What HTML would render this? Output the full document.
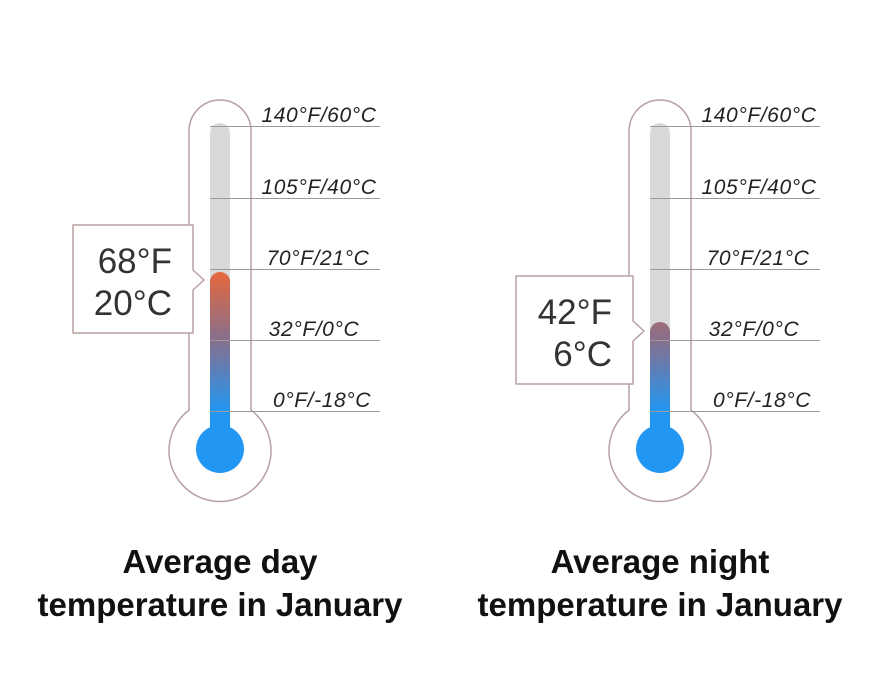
<!DOCTYPE html>
<html><head><meta charset="utf-8"><style>
html,body{margin:0;padding:0;background:#fff;}
svg{display:block;}
.lab{font-family:"Liberation Sans",sans-serif;font-style:italic;font-size:21px;letter-spacing:0.6px;fill:#222;text-anchor:middle;}
.val{font-family:"Liberation Sans",sans-serif;font-size:35px;fill:#333;text-anchor:end;}
.ttl{font-family:"Liberation Sans",sans-serif;font-weight:bold;font-size:33px;fill:#111;text-anchor:middle;}
</style></head><body>
<svg width="880" height="680" viewBox="0 0 880 680" xmlns="http://www.w3.org/2000/svg">
<defs>
<linearGradient id="g" gradientUnits="userSpaceOnUse" x1="0" y1="270" x2="0" y2="412">
<stop offset="0" stop-color="#e8673a"/>
<stop offset="0.5" stop-color="#86708f"/>
<stop offset="1" stop-color="#2196f3"/>
</linearGradient>
</defs>
<g>
<path d="M189,410 L189,131 A31,31 0 0 1 251,131 L251,410 A51,51 0 1 1 189,410 Z" fill="#fff" stroke="#b9a0a0" stroke-width="1.5"/>
<rect x="210" y="123" width="20" height="300" rx="10" fill="#d9d9d9"/>
<rect x="210" y="272" width="20" height="160" rx="10" fill="url(#g)"/>
<rect x="210" y="410" width="20" height="30" fill="#2196f3"/>
<circle cx="220" cy="449" r="24" fill="#2196f3"/>
<g stroke="#9a9a9a" stroke-width="1">
<line x1="210" y1="126.5" x2="380" y2="126.5"/>
<line x1="210" y1="198.5" x2="380" y2="198.5"/>
<line x1="210" y1="269.5" x2="380" y2="269.5"/>
<line x1="210" y1="340.5" x2="380" y2="340.5"/>
<line x1="210" y1="411.5" x2="380" y2="411.5"/>
</g>
<text class="lab" x="319" y="122">140°F/60°C</text>
<text class="lab" x="319" y="194">105°F/40°C</text>
<text class="lab" x="318" y="265">70°F/21°C</text>
<text class="lab" x="314" y="336">32°F/0°C</text>
<text class="lab" x="322" y="407">0°F/-18°C</text>
<path d="M73,225 L193,225 L193,270 L204,280 L193,290 L193,333 L73,333 Z" fill="#fff" stroke="#b9a0a0" stroke-width="1.5" stroke-linejoin="round"/>
<text class="val" x="172" y="273">68°F</text>
<text class="val" x="172" y="315">20°C</text>
<text class="ttl" x="220" y="573">Average day</text>
<text class="ttl" x="220" y="616">temperature in January</text>
</g>
<g>
<path d="M629,410 L629,131 A31,31 0 0 1 691,131 L691,410 A51,51 0 1 1 629,410 Z" fill="#fff" stroke="#b9a0a0" stroke-width="1.5"/>
<rect x="650" y="123" width="20" height="300" rx="10" fill="#d9d9d9"/>
<rect x="650" y="322" width="20" height="110" rx="10" fill="url(#g)"/>
<rect x="650" y="410" width="20" height="30" fill="#2196f3"/>
<circle cx="660" cy="449" r="24" fill="#2196f3"/>
<g stroke="#9a9a9a" stroke-width="1">
<line x1="650" y1="126.5" x2="820" y2="126.5"/>
<line x1="650" y1="198.5" x2="820" y2="198.5"/>
<line x1="650" y1="269.5" x2="820" y2="269.5"/>
<line x1="650" y1="340.5" x2="820" y2="340.5"/>
<line x1="650" y1="411.5" x2="820" y2="411.5"/>
</g>
<text class="lab" x="759" y="122">140°F/60°C</text>
<text class="lab" x="759" y="194">105°F/40°C</text>
<text class="lab" x="758" y="265">70°F/21°C</text>
<text class="lab" x="754" y="336">32°F/0°C</text>
<text class="lab" x="762" y="407">0°F/-18°C</text>
<path d="M516,276 L633,276 L633,321 L644,331 L633,341 L633,384 L516,384 Z" fill="#fff" stroke="#b9a0a0" stroke-width="1.5" stroke-linejoin="round"/>
<text class="val" x="612" y="324">42°F</text>
<text class="val" x="612" y="366">6°C</text>
<text class="ttl" x="660" y="573">Average night</text>
<text class="ttl" x="660" y="616">temperature in January</text>
</g>
</svg>
</body></html>
